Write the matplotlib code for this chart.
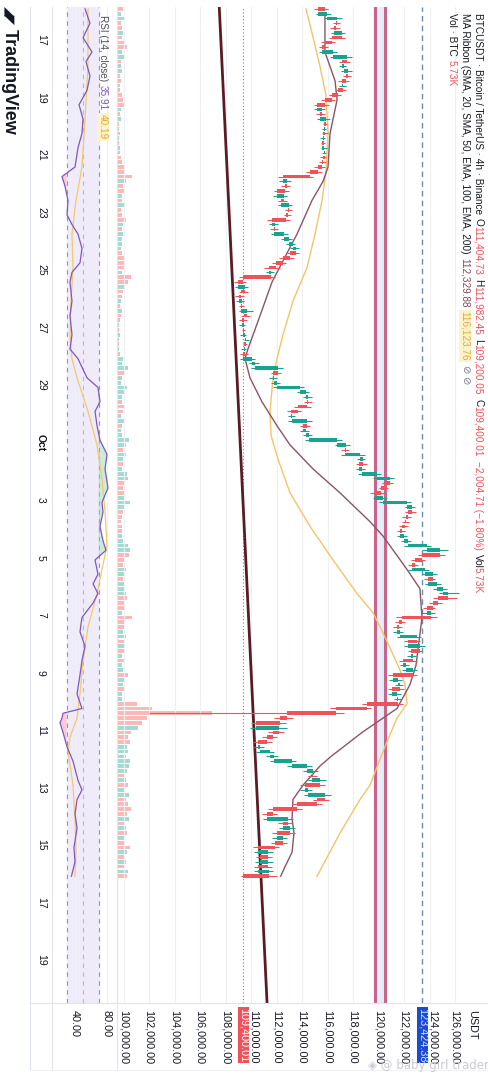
import numpy as np
import matplotlib.pyplot as plt
from matplotlib.lines import Line2D
from matplotlib.transforms import blended_transform_factory as blend, offset_copy

plt.rcParams['font.family'] = ['Liberation Sans', 'DejaVu Sans']

# ---- BTCUSDT 4h candles, index 0 = 17 Sep 00:00 (first shown = -7) ----
first_open = 115.80   # thousand USDT
closes = [
    115.26, 115.96, 116.75, 116.67, 116.51, 117.14, 116.35,
    115.80, 115.57, 116.43, 117.53, 117.14, 117.29,
    117.61, 117.45, 117.14, 117.22, 116.82, 116.35,
    115.80, 115.18, 115.57, 115.41, 115.88, 115.73,
    115.80, 115.65, 115.73, 115.57, 115.73, 115.80,
    115.65, 115.57, 115.26, 114.63, 112.51, 112.82,
    112.67, 112.04, 112.59, 112.35, 112.98, 112.90,
    112.75, 111.65, 111.88, 111.80, 112.59, 112.98,
    113.29, 113.53, 113.06, 112.51, 111.96, 111.41,
    111.57, 109.37, 108.98, 109.53, 109.22, 109.06,
    109.29, 109.22, 109.69, 109.45, 109.29, 109.45,
    109.37, 109.53, 109.61, 109.45, 109.53, 109.37,
    110.08, 110.31, 112.12, 111.73, 111.80, 112.04,
    113.84, 114.31, 114.47, 114.39, 113.69, 113.14,
    113.22, 114.39, 114.08, 114.31, 114.55, 116.75,
    117.45, 117.37, 118.55, 118.78, 118.47, 118.71,
    119.88, 120.90, 120.51, 120.20, 119.73, 120.35,
    122.24, 122.63, 122.31, 122.16, 122.08, 121.84,
    121.69, 122.00, 122.31, 123.80, 124.82, 123.41,
    122.86, 122.63, 123.65, 124.27, 123.88, 124.59,
    125.06, 125.45, 124.67, 124.27, 123.80, 124.12,
    121.84, 121.61, 121.45, 121.69, 123.02, 122.31,
    123.25, 122.55, 122.71, 121.92, 122.16, 122.71,
    121.14, 121.53, 121.69, 121.06, 121.45, 121.53,
    119.10, 116.67, 112.82, 112.27, 110.39, 112.20,
    111.73, 111.25, 110.55, 110.71, 111.49, 111.80,
    113.22, 114.39, 114.86, 114.78, 115.41, 114.24,
    114.47, 115.80, 115.18, 113.61, 111.73, 111.25,
    112.90, 112.51, 113.06, 112.04, 112.51, 111.88,
    110.55, 111.33, 110.71, 111.33, 110.55, 111.40, 109.40,
]
# wick lengths beyond the body, hundreds of USDT
up_wick = [
    2, 3, 4, 2, 3, 2, 2,
    2, 2, 3, 4, 2, 2,  3, 2, 2, 2, 2, 2,  2, 3, 2, 2, 3, 1,
    1, 2, 1, 1, 2, 1,  1, 2, 2, 3, 2, 3,  2, 3, 2, 2, 2, 2,
    2, 3, 2, 2, 3, 2,  2, 2, 2, 3, 2, 3,  2, 3, 2, 2, 2, 2,
    2, 2, 5, 2, 2, 1,  1, 1, 2, 1, 1, 2,  2, 3, 4, 2, 2, 2,
    3, 2, 3, 3, 3, 2,  2, 4, 2, 2, 2, 4,  3, 2, 4, 2, 3, 2,
    3, 3, 2, 2, 2, 3,  3, 2, 3, 2, 2, 2,  2, 2, 2, 3, 6, 4,
    2, 2, 3, 3, 2, 3,  3, 9, 7, 3, 2, 3,  5, 2, 2, 2, 3, 2,
    4, 2, 2, 3, 2, 3,  3, 3, 2, 3, 3, 2,  4, 3, 6, 5, 5, 6,
    4, 3, 4, 3, 3, 3,  3, 4, 4, 3, 5, 4,  3, 5, 3, 4, 4, 3,
    4, 3, 4, 4, 3, 3,  3, 4, 3, 4, 3, 3, 6,
]
dn_wick = [
    3, 2, 2, 2, 3, 2, 2,
    3, 2, 2, 2, 2, 2,  2, 2, 3, 2, 2, 2,  3, 2, 2, 3, 2, 1,
    2, 1, 2, 1, 1, 2,  2, 2, 3, 3, 4, 3,  3, 2, 3, 2, 2, 2,
    2, 4, 2, 3, 2, 2,  2, 2, 2, 3, 3, 4,  2, 3, 3, 2, 2, 3,
    2, 2, 2, 2, 2, 2,  1, 2, 1, 1, 2, 2,  2, 2, 3, 2, 3, 2,
    3, 2, 2, 2, 3, 3,  2, 3, 2, 2, 2, 3,  2, 3, 3, 2, 2, 2,
    3, 3, 2, 2, 4, 2,  3, 2, 2, 3, 2, 2,  2, 2, 2, 3, 4, 3,
    3, 3, 3, 2, 3, 2,  3, 3, 4, 3, 3, 4,  5, 3, 3, 3, 2, 3,
    3, 2, 3, 3, 2, 3,  4, 3, 2, 3, 3, 2,  4, 5, 108, 5, 4, 5,
    4, 4, 4, 3, 3, 3,  3, 4, 3, 3, 3, 4,  4, 3, 3, 4, 4, 4,
    3, 4, 3, 4, 4, 3,  4, 3, 3, 4, 3, 3, 2,
]
# volume, thousand BTC
volume = [
    3.2, 2.5, 4.1, 2.0, 2.8, 3.5, 2.6,
    4.8, 5.5, 3.0, 4.2, 2.4, 2.0,  2.6, 1.8, 2.2, 1.5, 1.9, 2.8,
    3.3, 3.9, 2.5, 1.8, 2.1, 1.4,  1.2, 1.6, 1.3, 1.1, 1.5, 1.8,
    2.2, 2.6, 3.8, 4.5, 8.6, 5.2,  3.6, 4.4, 3.1, 2.8, 3.9, 2.3,
    2.6, 5.0, 3.4, 2.9, 3.6, 3.0,  2.7, 2.2, 3.1, 3.8, 4.0, 4.6,
    2.9, 7.9, 6.1, 4.3, 3.2, 2.8,  2.1, 1.7, 2.9, 2.0, 1.6, 1.3,
    1.2, 1.5, 1.4, 1.1, 1.3, 1.6,  3.5, 3.0, 6.2, 3.8, 2.9, 2.4,
    5.6, 4.1, 3.0, 2.6, 3.9, 3.3,  2.4, 4.5, 2.8, 2.5, 3.0, 6.6,
    5.0, 3.4, 5.4, 3.6, 3.2, 2.7,  5.8, 6.3, 4.2, 3.5, 4.4, 3.8,
    7.2, 4.8, 3.6, 2.7, 2.4, 3.0,  2.8, 2.6, 3.4, 6.0, 7.4, 6.8,
    4.6, 3.7, 4.9, 4.2, 3.3, 4.1,  4.7, 5.2, 5.6, 4.0, 4.3, 3.1,
    8.4, 4.5, 3.8, 3.2, 5.1, 4.4,  4.0, 3.9, 2.8, 4.8, 3.0, 3.6,
    6.1, 4.2, 3.3, 3.9, 3.0, 2.9,  11.5, 20.0, 54.0, 17.0, 14.0, 12.0,
    8.0, 6.5, 7.3, 5.8, 6.0, 5.1,  7.6, 6.8, 5.9, 4.0, 5.2, 6.3,
    4.4, 6.9, 5.0, 6.4, 8.2, 5.5,  7.0, 4.6, 5.3, 5.9, 4.1, 4.8,
    7.4, 5.6, 4.3, 4.9, 4.5, 6.2, 5.7,
]

# MA ribbon (SMA 20, SMA 50): candle index, thousand USDT
ma20_k = [-6, 2, 8, 12, 19, 26, 29, 33, 40, 44, 50, 57, 64, 66, 70, 75, 80, 84,
          89, 94, 100, 103, 110, 114, 120, 125, 130, 134, 139, 144, 149, 151,
          155, 158, 162, 165, 169, 172, 174]
ma20 = [115.80, 115.80, 116.59, 116.75, 116.20, 116.04, 115.65, 114.78, 113.61,
        112.82, 111.65, 110.71, 109.76, 109.53, 109.92, 110.86, 112.04, 113.06,
        114.86, 116.98, 119.33, 120.35, 122.24, 123.25, 123.41, 123.18, 122.94,
        122.47, 121.45, 118.71, 116.28, 115.41, 114.08, 113.29, 113.22, 113.37,
        113.22, 112.67, 112.33]
ma50_k = [-7, -2, 5, 11, 19, 27, 33, 40, 47, 54, 61, 66, 70, 77, 82, 87, 94, 101,
          108, 115, 119, 125, 131, 134, 138, 141, 148, 155, 158, 165, 174]
ma50 = [114.31, 114.78, 115.41, 115.88, 116.04, 115.88, 115.57, 115.02, 114.39,
        113.29, 112.51, 112.04, 111.73, 111.49, 111.57, 112.12, 113.06, 114.63,
        116.43, 118.31, 119.57, 120.67, 121.69, 122.08, 122.24, 121.45, 120.35,
        119.33, 118.55, 116.98, 115.18]

# RSI (14) and its moving average
rsi_k = [-7, -4, -1, 2, 4, 7, 10, 13, 16, 19, 22, 26, 28, 30, 33, 36, 38, 40, 43,
         46, 48, 50, 54, 57, 61, 64, 66, 70, 72, 75, 77, 80, 83, 86, 89, 93, 96,
         98, 101, 104, 106, 108, 111, 113, 115, 117, 120, 123, 126, 129, 132,
         136, 139, 140, 141, 142, 144, 147, 150, 154, 156, 158, 161, 164, 168,
         171, 174]
rsi = [52.9, 59.1, 50.4, 61.6, 54.1, 59.1, 55.4, 45.4, 50.4, 49.1, 44.1, 40.4,
       24.1, 27.9, 31.6, 30.4, 36.6, 44.1, 49.1, 46.6, 36.6, 34.1, 36.6, 34.1,
       36.6, 34.1, 44.1, 55.4, 69.1, 71.6, 65.4, 67.9, 71.6, 80.4, 77.9, 81.6,
       74.1, 75.4, 71.6, 75.4, 79.1, 65.4, 69.1, 62.9, 69.1, 62.9, 49.1, 46.6,
       52.9, 49.1, 46.6, 42.9, 49.1, 25.4, 24.1, 21.6, 25.4, 30.4, 37.9, 44.1,
       49.1, 42.9, 40.4, 42.9, 39.1, 40.4, 35.91]
rsima_k = [-7, 5, 16, 26, 33, 40, 47, 54, 61, 66, 70, 77, 84, 91, 98, 105, 110,
           115, 122, 129, 136, 141, 145, 148, 155, 162, 169, 174]
rsima = [56.6, 56.6, 52.9, 49.1, 41.6, 36.6, 37.9, 35.4, 34.1, 36.6, 42.9, 56.6,
         67.9, 74.1, 77.9, 80.4, 74.1, 67.9, 56.6, 50.4, 46.6, 42.9, 34.1, 31.6,
         37.9, 40.4, 41.6, 40.19]

# drawn objects
trend_k = [-7.4, 200.5]
trend_p = [107510, 111260]
zone = [119725, 120510]
alert_price = 123424.38
last_price = 109400.01

date_day = [0, 2, 4, 6, 8, 10, 12, 14, 16, 18, 20, 22, 24, 26, 28, 30, 32]
date_lab = ['17', '19', '21', '23', '25', '27', '29', 'Oct', '3', '5', '7', '9',
            '11', '13', '15', '17', '19']
price_ticks = list(range(100000, 126001, 2000))

RED, TEAL = '#f0525a', '#17a38f'
DARK = '#131722'

W, H = 488, 1080
fig = plt.figure(figsize=(W / 100, H / 100), dpi=100)


def px_axes(x0, y0, x1, y1):
    return fig.add_axes([x0 / W, 1 - y1 / H, (x1 - x0) / W, (y1 - y0) / H])


TOP, BOT = 7, 1003
def k_of(y):
    return (y - 42.4) / 4.792
def p_of(x):
    return 100000 + (x - 123.5) * 2000 / 25.5
ylim = (k_of(BOT), k_of(TOP))

k = np.arange(-7, -7 + len(closes))
c = np.array(closes) * 1000
o = np.r_[first_open, closes[:-1]] * 1000
hi = np.maximum(o, c) + np.array(up_wick) * 100
lo = np.minimum(o, c) - np.array(dn_wick) * 100
col = np.where(c >= o, TEAL, RED)

# volume overlay (under the candles)
vax = px_axes(117, TOP, W, BOT)
vax.barh(k, volume, height=0.78, color=np.where(c >= o, '#a3dbd2', '#f9b9b7'))
vax.set_xlim(0, (W - 117) / 1.75)
vax.set_ylim(*ylim)
vax.axis('off')

ax = px_axes(117, TOP, W, BOT)
ax.set_facecolor('none')
ax.set_xlim(p_of(117), p_of(W))
ax.set_ylim(*ylim)
for p in price_ticks:
    ax.axvline(p, color='#eef0f5', lw=0.8, zorder=0)
ax.axvspan(zone[0], zone[1], color='#e6edf9', zorder=1)
for p in zone:
    ax.axvline(p, color='#c8658a', lw=2.2, zorder=2)
ax.axvline(alert_price, color='#6b8db3', lw=1.0, ls=(0, (4, 3)), zorder=2)
ax.axvline(last_price, color=RED, lw=0.8, ls=(0, (1, 2)), zorder=2)
ax.plot(trend_p, trend_k, color='#5b1b24', lw=2, zorder=3)
ax.plot(np.array(ma50) * 1000, ma50_k, color='#f3c46a', lw=1, zorder=3)
ax.plot(np.array(ma20) * 1000, ma20_k, color='#8a5565', lw=1, zorder=3)
ax.hlines(k, lo, hi, colors=col, lw=0.8, zorder=4)
ax.barh(k, np.abs(c - o), left=np.minimum(o, c), height=0.78, color=col, zorder=5)
ax.set_xticks([])
ax.set_yticks([])
for s in ax.spines.values():
    s.set_visible(False)

# RSI pane
rax = px_axes(52, TOP, 117, BOT)
rax.set_xlim(50 - (82.7 - 52) / 0.8, 50 + (117 - 82.7) / 0.8)
rax.set_ylim(*ylim)
rax.axvspan(30, 70, color='#efebf9', zorder=0)
for v in (40, 80):
    rax.axvline(v, color='#eef0f5', lw=0.8, zorder=0)
for v in (30, 70):
    rax.axvline(v, color='#9598a1', lw=0.8, ls=(0, (4, 4)), zorder=1)
rax.axvline(50, color='#b8bac2', lw=0.8, ls=(0, (4, 4)), zorder=1)
rv, rk = np.array(rsi), np.array(rsi_k)
rax.fill_betweenx(rk, 70, rv, where=rv >= 70, interpolate=True, color='#8fd6b0', alpha=0.45, lw=0)
rax.fill_betweenx(rk, 30, rv, where=rv <= 30, interpolate=True, color='#f7a8b8', alpha=0.6, lw=0)
rax.plot(rsima, rsima_k, color='#f5c86a', lw=0.9, zorder=3)
rax.plot(rsi, rsi_k, color='#7e57c2', lw=0.9, zorder=4)
rax.set_xticks([])
rax.set_yticks([])
for s in rax.spines.values():
    s.set_visible(False)

# frame lines
LC = '#e0e3eb'
for x in (30, 52, 117):
    fig.add_artist(Line2D([x / W, x / W], [1 - TOP / H, 1 - 1070 / H], color=LC, lw=0.8))
fig.add_artist(Line2D([30 / W, 1], [1 - BOT / H, 1 - BOT / H], color=LC, lw=0.8))
fig.add_artist(Line2D([30 / W, 1], [1 - 1070 / H, 1 - 1070 / H], color='#f0f2f6', lw=0.8))

# price scale; the two labels next to a price tag are nudged out from under it
AX_FS = 7.8
trp = blend(ax.transData, fig.transFigure)
for p in price_ticks:
    tr = trp
    if 0 < p - last_price < 1500 or 0 < p - alert_price < 1500:
        tr = offset_copy(trp, fig=fig, x=3, y=0, units='dots')
    ax.text(p, 1 - 1010 / H, f'{p:,.2f}', transform=tr, rotation=-90, ha='center',
            va='top', fontsize=AX_FS, color=DARK)
ax.text(last_price, 1 - 1008 / H, f'{last_price:,.2f}', transform=trp, rotation=-90,
        ha='center', va='top', fontsize=AX_FS, color='white', zorder=10,
        bbox=dict(boxstyle='square,pad=0.05', fc=RED, ec='none'))
ax.text(alert_price, 1 - 1008 / H, f'{alert_price:,.2f}', transform=trp, rotation=-90,
        ha='center', va='top', fontsize=AX_FS, color='#dce6ff', zorder=10,
        bbox=dict(boxstyle='square,pad=0.05', fc='#1a4bd0', ec='none'))
fig.text(472 / W, 1 - 1010 / H, 'USDT', rotation=-90, ha='center', va='top',
         fontsize=AX_FS, color=DARK)
trr = blend(rax.transData, fig.transFigure)
for v in (40, 80):
    rax.text(v, 1 - 1010 / H, f'{v:.2f}', transform=trr, rotation=-90, ha='center',
             va='top', fontsize=AX_FS, color=DARK)

# time scale
trd = blend(fig.transFigure, ax.transData)
for d, lab in zip(date_day, date_lab):
    ax.text(41 / W, 6 * d - 0.5, lab, transform=trd, rotation=-90, ha='center',
            va='center', fontsize=7.5, color=DARK,
            fontweight='bold' if lab == 'Oct' else 'normal')

# legends
fig.canvas.draw()
rend = fig.canvas.get_renderer()


def chain(x, y, pieces, size):
    for s, colr, gap, bg in pieces:
        kw = {}
        if bg:
            kw['bbox'] = dict(boxstyle='square,pad=0.1', fc=bg, ec='none')
        t = fig.text(x / W, 1 - y / H, s, rotation=-90, ha='center', va='top',
                     fontsize=size, color=colr, **kw)
        y += t.get_window_extent(rend).height + gap


FS = 7.2
chain(478, 13, [
    ('BTCUSDT · Bitcoin / TetherUS · 4h · Binance', DARK, 4, None),
    ('O', DARK, 0, None), ('111,404.73', RED, 4, None),
    ('H', DARK, 0, None), ('111,982.45', RED, 4, None),
    ('L', DARK, 0, None), ('109,200.05', RED, 4, None),
    ('C', DARK, 0, None), ('109,400.01', RED, 4, None),
    ('−2,004.71 (−1.80%)', RED, 4, None),
    ('Vol', DARK, 0, None), ('5.73K', RED, 0, None)], FS)
chain(465, 13, [
    ('MA Ribbon (SMA, 20, SMA, 50, EMA, 100, EMA, 200)', DARK, 4, None),
    ('112,329.88', '#7a4a57', 4, None),
    ('116,123.76', '#e2a93a', 4, '#fdf2c9'),
    ('⊘', '#787b86', 3, None), ('⊘', '#787b86', 0, None)], FS)
chain(452, 13, [('Vol · BTC', DARK, 4, None), ('5.73K', RED, 0, None)], FS)
chain(103, 15, [('RSI (14, close)', '#4a4e5a', 4, None),
                ('35.91', '#7e57c2', 4, None),
                ('40.19', '#e2a93a', 0, '#fdf2c9')], FS)

# logo and watermark
chain(9, 6, [('◢◤', DARK, 4, None)], 9)
fig.text(9 / W, 1 - 29 / H, 'TradingView', rotation=-90, ha='center', va='top',
         fontsize=13, fontweight='bold', color=DARK)
fig.text(368 / W, 1 - 1066 / H, '◈ @ baby girl trader', ha='left', va='center',
         fontsize=8.5, color='#c9cbd1', family=['DejaVu Sans'])

fig.savefig('out.png', dpi=100, facecolor='white')
